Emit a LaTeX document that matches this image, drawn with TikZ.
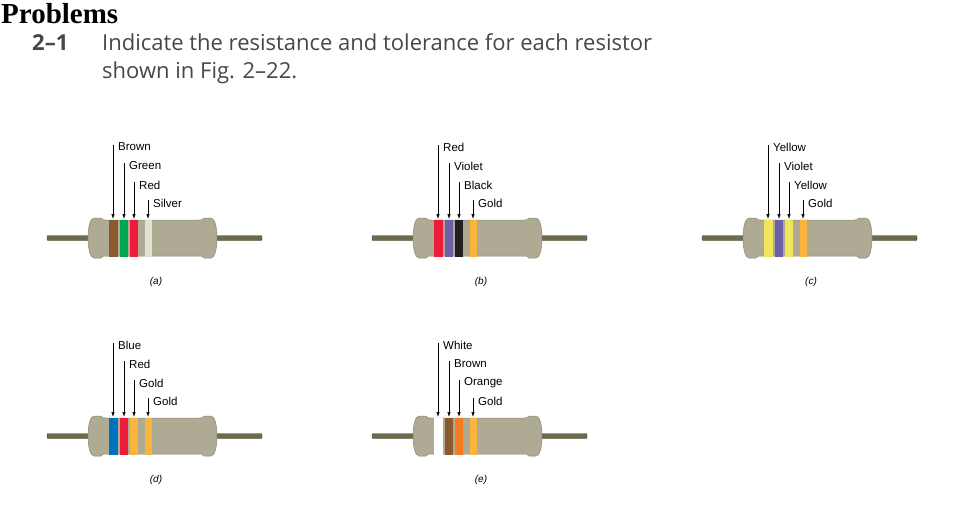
\documentclass[tikz,border=0pt]{standalone}
\usepackage{fontspec}
\setmainfont{Liberation Serif}
\newfontfamily\lab{Liberation Sans}
\newfontfamily\txt{Open Sans}
\definecolor{cbrown}{HTML}{8B5A2B}
\definecolor{cgreen}{HTML}{00A651}
\definecolor{cred}{HTML}{ED1C3A}
\definecolor{csilver}{HTML}{E2E0D2}
\definecolor{cviolet}{HTML}{6B5FA8}
\definecolor{cblack}{HTML}{231F20}
\definecolor{cgold}{HTML}{F9B43B}
\definecolor{cyellow}{HTML}{F2E45C}
\definecolor{cblue}{HTML}{0072BC}
\definecolor{cwhite}{HTML}{FFFFFF}
\definecolor{corange}{HTML}{F47B20}
\definecolor{body}{HTML}{AEAA94}
\definecolor{lead}{HTML}{6E6A4E}
\usetikzlibrary{arrows.meta}
\tikzset{
  lbl/.style={anchor=west,font=\lab\fontsize{11.5}{12}\selectfont,inner sep=0pt},
  captxt/.style={font=\lab\itshape\fontsize{10}{11}\selectfont,inner sep=0pt},
  arr/.style={-{Latex[length=5pt,width=3.5pt]},line width=0.7pt}
}
\newcommand\myres[7]{%
\begin{scope}[shift={(#1,#2)}]
  \fill[lead,draw=lead!70!black,line width=0.4pt,rounded corners=1pt] (-41,-2.5) rectangle (174,2.5);
  \draw[fill=body,draw=body!80!black,line width=0.5pt]
    (6,-20) -- (13,-20) .. controls (15,-18) .. (18,-18) -- (111,-18) .. controls (114,-18) .. (116,-20) -- (123,-20)
    .. controls (131,-20) and (131,20) .. (123,20) -- (116,20) .. controls (114,18) .. (111,18) -- (18,18)
    .. controls (15,18) .. (13,20) -- (6,20) .. controls (-2,20) and (-2,-20) .. (6,-20) -- cycle;
  \fill[#3] (21,-18.5) rectangle (30,18.5);
  \fill[#4] (32,-18.5) rectangle (40,18.5);
  \fill[#5] (42,-18.5) rectangle (50,18.5);
  \fill[#6] (57,-18.5) rectangle (64,18.5);
  #7
\end{scope}}
\newcommand\labs[5]{%
  \coordinate (t1) at (25,-93); \coordinate (b1) at (25,-19);
  \coordinate (t2) at (36,-75); \coordinate (b2) at (36,-19);
  \coordinate (t3) at (46,-56); \coordinate (b3) at (46,-19);
  \coordinate (t4) at (60,-38); \coordinate (b4) at (60,-19);
  \draw[arr] (t1) -- (b1); \draw[arr] (t2) -- (b2); \draw[arr] (t3) -- (b3); \draw[arr] (t4) -- (b4);
  \node[lbl] at (30,-91) {#1}; \node[lbl] at (41,-72) {#2};
  \node[lbl] at (51,-53) {#3}; \node[lbl] at (65,-35) {#4};
  \node[captxt] at (68,44) {(#5)};}
\begin{document}
\begin{tikzpicture}[x=1pt,y=-1pt]
\useasboundingbox[fill=white] (0,0) rectangle (979,507);
\node[anchor=base west,inner sep=0pt,font=\bfseries\fontsize{29}{30}\selectfont] (title) at (1,23) {Problems};
\node[anchor=base west,inner sep=0pt,font=\txt\bfseries\fontsize{22}{23}\selectfont,text=black!72] (num) at (32,50) {2–1};
\node[anchor=base west,inner sep=0pt,font=\txt\fontsize{22}{23}\selectfont,text=black!72] (q) at (102,50) {Indicate the resistance and tolerance for each resistor};
\node[anchor=base west,inner sep=0pt,font=\txt\fontsize{22}{23}\selectfont,text=black!72] (q2) at (102,78) {shown in Fig. 2–22.};
\myres{88}{238}{cbrown}{cgreen}{cred}{csilver}{\labs{Brown}{Green}{Red}{Silver}{a}}
\myres{413}{238}{cred}{cviolet}{cblack}{cgold}{\labs{Red}{Violet}{Black}{Gold}{b}}
\myres{743}{238}{cyellow}{cviolet}{cyellow}{cgold}{\labs{Yellow}{Violet}{Yellow}{Gold}{c}}
\myres{88}{436}{cblue}{cred}{cgold}{cgold}{\labs{Blue}{Red}{Gold}{Gold}{d}}
\myres{413}{436}{cwhite}{cbrown}{corange}{cgold}{\labs{White}{Brown}{Orange}{Gold}{e}}
\end{tikzpicture}
\end{document}
